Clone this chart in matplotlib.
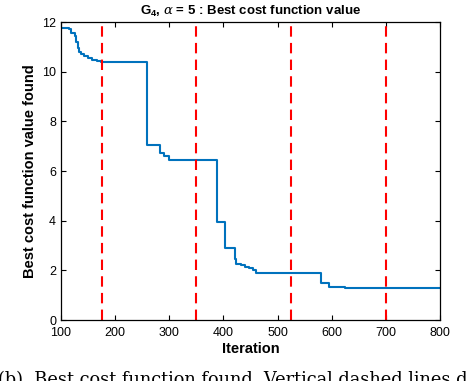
import numpy as np
import matplotlib
matplotlib.use("Agg")
import matplotlib.pyplot as plt

# best cost found so far (step curve)
iteration = [100, 114, 118, 126, 128, 131, 133, 137, 143, 150, 158, 166, 173,
             258, 283, 291, 300, 389, 403, 421, 424, 433, 439, 447, 454, 460,
             580, 595, 625, 800]
best_cost = [11.77, 11.72, 11.55, 11.42, 11.2, 10.95, 10.8, 10.7, 10.62, 10.55,
             10.49, 10.44, 10.39, 7.07, 6.72, 6.62, 6.45, 3.96, 2.89, 2.45,
             2.25, 2.22, 2.15, 2.1, 2.0, 1.88, 1.50, 1.34, 1.28, 1.28]
vlines = [175, 350, 525, 700]
xticks = [100, 200, 300, 400, 500, 600, 700, 800]
yticks = [0, 2, 4, 6, 8, 10, 12]

plt.rcParams['font.family'] = ['Liberation Sans', 'DejaVu Sans']
plt.rcParams['mathtext.fontset'] = 'custom'
plt.rcParams['mathtext.rm'] = 'Liberation Sans'
plt.rcParams['mathtext.bf'] = 'Liberation Sans:bold'
plt.rcParams['mathtext.it'] = 'DejaVu Serif:italic'

fig = plt.figure(figsize=(4.74, 3.81), dpi=100)
ax = fig.add_axes([0.1287, 0.160, 0.7995, 0.782])

ax.step(iteration, best_cost, where='post', color='#0072BD', lw=1.5)
for v in vlines:
    ax.axvline(v, color='#FF0000', lw=1.5, ls=(0, (5, 3)))

ax.set_xlim(100, 800)
ax.set_ylim(0, 12)
ax.set_xticks(xticks)
ax.set_yticks(yticks)
ax.tick_params(direction='in', top=True, right=True, labelsize=9, length=3.5, width=0.8)
ax.tick_params(axis='x', pad=5)
for s in ax.spines.values():
    s.set_linewidth(0.9)

ax.set_xlabel('Iteration', fontsize=10.5, fontweight='bold', labelpad=2)
ax.set_ylabel('Best cost function value found', fontsize=10.5, fontweight='bold', labelpad=4)
ax.set_title(r'G$_\mathbf{4}$, $\alpha$ = 5 : Best cost function value', fontsize=9.5,
             fontweight='bold', pad=5)

fig.text(-0.004, -0.012, '(b)  Best cost function found. Vertical dashed lines d',
         family='DejaVu Serif', fontsize=12.8, va='baseline', ha='left')

fig.savefig('out.png', dpi=100)
